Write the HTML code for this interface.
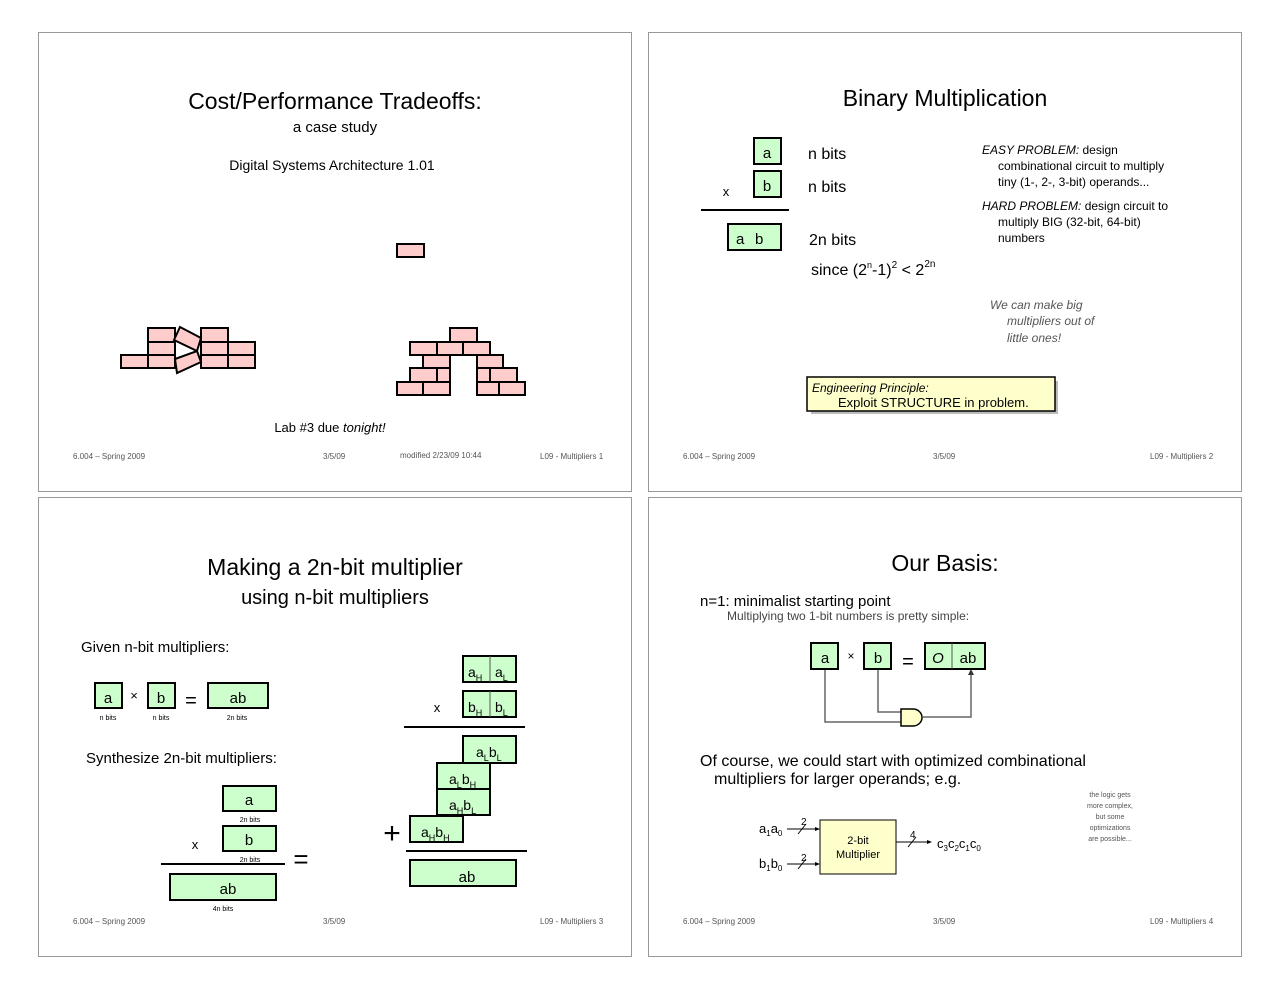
<!DOCTYPE html>
<html><head><meta charset="utf-8"><style>
html,body{margin:0;padding:0;background:#fff;}
svg{display:block;font-family:"Liberation Sans",sans-serif;}
.g{fill:#ccffcc;stroke:#000;stroke-width:2}
.p{fill:#ffcccc;stroke:#000;stroke-width:2}
.f{font-size:8px;fill:#555}
</style></head><body>
<svg width="1280" height="989" viewBox="0 0 1280 989" xmlns="http://www.w3.org/2000/svg">
<rect width="1280" height="989" fill="#fff"/>
<g fill="none" stroke="#999" stroke-width="1">
<rect x="38.5" y="32.5" width="593" height="459"/>
<rect x="648.5" y="32.5" width="593" height="459"/>
<rect x="38.5" y="497.5" width="593" height="459"/>
<rect x="648.5" y="497.5" width="593" height="459"/>
</g>

<!-- SLIDE 1 -->
<text x="335" y="109" font-size="23" text-anchor="middle">Cost/Performance Tradeoffs:</text>
<text x="335" y="132" font-size="15" text-anchor="middle">a case study</text>
<text x="332" y="170" font-size="14" text-anchor="middle">Digital Systems Architecture 1.01</text>
<g class="p">
<rect x="397" y="244" width="27" height="13"/>
<rect x="148" y="328" width="27" height="14"/><rect x="201" y="328" width="27" height="14"/>
<rect x="148" y="342" width="27" height="13"/><rect x="201" y="342" width="27" height="13"/><rect x="228" y="342" width="27" height="13"/>
<rect x="121" y="355" width="27" height="13"/><rect x="148" y="355" width="27" height="13"/><rect x="201" y="355" width="27" height="13"/><rect x="228" y="355" width="27" height="13"/>
<polygon points="180,327 201,338 197,351 174,340"/>
<polygon points="175,359 197,351 201,362 177,373"/>
<rect x="450" y="328" width="27" height="14"/>
<rect x="410" y="342" width="27" height="13"/><rect x="437" y="342" width="26" height="13"/><rect x="463" y="342" width="27" height="13"/>
<rect x="423" y="355" width="27" height="13"/><rect x="477" y="355" width="26" height="13"/>
<rect x="410" y="368" width="27" height="14"/><rect x="437" y="368" width="13" height="14"/><rect x="477" y="368" width="13" height="14"/><rect x="490" y="368" width="27" height="14"/>
<rect x="397" y="382" width="26" height="13"/><rect x="423" y="382" width="27" height="13"/><rect x="477" y="382" width="22" height="13"/><rect x="499" y="382" width="26" height="13"/>
</g>
<text x="330" y="432" font-size="13" text-anchor="middle">Lab #3 due <tspan font-style="italic">tonight!</tspan></text>
<text x="73" y="459" class="f">6.004 – Spring 2009</text>
<text x="323" y="459" class="f">3/5/09</text>
<text x="400" y="458" class="f" font-size="6">modified 2/23/09 10:44</text>
<text x="540" y="459" class="f">L09 - Multipliers   1</text>

<!-- SLIDE 2 -->
<text x="945" y="106" font-size="23" text-anchor="middle">Binary Multiplication</text>
<rect class="g" x="754" y="138" width="27" height="26"/><text x="767" y="158" font-size="15" text-anchor="middle">a</text>
<rect class="g" x="754" y="171" width="27" height="26"/><text x="767" y="191" font-size="15" text-anchor="middle">b</text>
<text x="726" y="196" font-size="13" text-anchor="middle">x</text>
<line x1="701" y1="210" x2="789" y2="210" stroke="#000" stroke-width="2"/>
<rect class="g" x="728" y="224" width="53" height="26"/><text x="736" y="244" font-size="15">a</text><text x="755" y="244" font-size="15">b</text>
<text x="808" y="159" font-size="16">n bits</text>
<text x="808" y="192" font-size="16">n bits</text>
<text x="809" y="245" font-size="16">2n bits</text>
<text x="811" y="275" font-size="16">since (2<tspan font-size="9" dy="-7">n</tspan><tspan dy="7">-1)</tspan><tspan font-size="10" dy="-7">2</tspan><tspan dy="7"> &lt; 2</tspan><tspan font-size="10" dy="-8">2n</tspan></text>
<g font-size="12">
<text x="982" y="154" font-style="italic">EASY PROBLEM: <tspan font-style="normal">design</tspan></text>
<text x="998" y="170">combinational circuit to multiply</text>
<text x="998" y="186">tiny (1-, 2-, 3-bit) operands...</text>
<text x="982" y="210" font-style="italic">HARD PROBLEM: <tspan font-style="normal">design circuit to</tspan></text>
<text x="998" y="226">multiply BIG (32-bit, 64-bit)</text>
<text x="998" y="242">numbers</text>
</g>
<g font-size="12" fill="#555" font-style="italic">
<text x="990" y="309">We can make big</text>
<text x="1007" y="325">multipliers out of</text>
<text x="1007" y="342">little ones!</text>
</g>
<rect x="811" y="381" width="247" height="33" fill="#bbb"/>
<rect x="807" y="377" width="248" height="34" fill="#ffffcc" stroke="#000" stroke-width="1.5"/>
<text x="812" y="392" font-size="12" font-style="italic">Engineering Principle:</text>
<text x="838" y="407" font-size="13">Exploit  STRUCTURE in problem.</text>
<text x="683" y="459" class="f">6.004 – Spring 2009</text>
<text x="933" y="459" class="f">3/5/09</text>
<text x="1150" y="459" class="f">L09 - Multipliers   2</text>

<!-- SLIDE 3 -->
<text x="335" y="575" font-size="23" text-anchor="middle">Making a 2n-bit multiplier</text>
<text x="335" y="604" font-size="20" text-anchor="middle">using n-bit multipliers</text>
<text x="81" y="652" font-size="15">Given n-bit multipliers:</text>
<rect class="g" x="95" y="683" width="27" height="25"/><text x="108" y="703" font-size="15" text-anchor="middle">a</text>
<text x="134" y="700" font-size="13" text-anchor="middle">×</text>
<rect class="g" x="148" y="683" width="27" height="25"/><text x="161" y="703" font-size="15" text-anchor="middle">b</text>
<text x="191" y="707" font-size="20" text-anchor="middle">=</text>
<rect class="g" x="208" y="683" width="60" height="25"/><text x="238" y="703" font-size="15" text-anchor="middle">ab</text>
<g font-size="7" text-anchor="middle"><text x="108" y="720">n bits</text><text x="161" y="720">n bits</text><text x="237" y="720">2n bits</text></g>
<text x="86" y="763" font-size="15">Synthesize 2n-bit multipliers:</text>
<rect class="g" x="223" y="786" width="53" height="25"/><text x="249" y="805" font-size="15" text-anchor="middle">a</text>
<text x="250" y="822" font-size="7" text-anchor="middle">2n bits</text>
<rect class="g" x="223" y="826" width="53" height="25"/><text x="249" y="845" font-size="15" text-anchor="middle">b</text>
<text x="250" y="862" font-size="7" text-anchor="middle">2n bits</text>
<text x="195" y="849" font-size="13" text-anchor="middle">x</text>
<line x1="161" y1="864" x2="285" y2="864" stroke="#000" stroke-width="2"/>
<text x="301" y="868" font-size="26" text-anchor="middle">=</text>
<rect class="g" x="170" y="874" width="106" height="26"/><text x="228" y="894" font-size="15" text-anchor="middle">ab</text>
<text x="223" y="911" font-size="7" text-anchor="middle">4n bits</text>
<g font-size="14">
<rect class="g" x="463" y="656" width="53" height="26"/><line x1="490" y1="656" x2="490" y2="682" stroke="#555"/>
<text x="468" y="677">a<tspan font-size="9" dy="4">H</tspan></text><text x="495" y="677">a<tspan font-size="9" dy="4">L</tspan></text>
<rect class="g" x="463" y="691" width="53" height="26"/><line x1="490" y1="691" x2="490" y2="717" stroke="#555"/>
<text x="468" y="712">b<tspan font-size="9" dy="4">H</tspan></text><text x="495" y="712">b<tspan font-size="9" dy="4">L</tspan></text>
<text x="437" y="712" font-size="13" text-anchor="middle">x</text>
<line x1="404" y1="727" x2="525" y2="727" stroke="#000" stroke-width="2"/>
<rect class="g" x="463" y="736" width="53" height="27"/><text x="476" y="757">a<tspan font-size="9" dy="4">L</tspan><tspan dy="-4">b</tspan><tspan font-size="9" dy="4">L</tspan></text>
<rect class="g" x="437" y="763" width="53" height="26"/><text x="449" y="784">a<tspan font-size="9" dy="4">L</tspan><tspan dy="-4">b</tspan><tspan font-size="9" dy="4">H</tspan></text>
<rect class="g" x="437" y="789" width="53" height="26"/><text x="449" y="810">a<tspan font-size="9" dy="4">H</tspan><tspan dy="-4">b</tspan><tspan font-size="9" dy="4">L</tspan></text>
<rect class="g" x="410" y="816" width="53" height="26"/><text x="421" y="837">a<tspan font-size="9" dy="4">H</tspan><tspan dy="-4">b</tspan><tspan font-size="9" dy="4">H</tspan></text>
<text x="392" y="843" font-size="30" text-anchor="middle">+</text>
<line x1="406" y1="851" x2="527" y2="851" stroke="#000" stroke-width="2"/>
<rect class="g" x="410" y="860" width="106" height="26"/><text x="467" y="882" font-size="15" text-anchor="middle">ab</text>
</g>
<text x="73" y="924" class="f">6.004 – Spring 2009</text>
<text x="323" y="924" class="f">3/5/09</text>
<text x="540" y="924" class="f">L09 - Multipliers   3</text>

<!-- SLIDE 4 -->
<text x="945" y="571" font-size="23" text-anchor="middle">Our Basis:</text>
<text x="700" y="606" font-size="15">n=1: minimalist starting point</text>
<text x="727" y="620" font-size="12" fill="#444">Multiplying two 1-bit numbers is pretty simple:</text>
<g fill="none" stroke="#666" stroke-width="1.5">
<polyline points="825,668 825,722 903,722"/>
<polyline points="878,668 878,712 903,712"/>
<polyline points="923,717 971,717 971,672"/>
</g>
<polygon points="971,669 968,675 974,675" fill="#333"/>
<path d="M901,709 h12 a9,8.5 0 0 1 0,17 h-12 z" fill="#ffffcc" stroke="#000" stroke-width="1.5"/>
<rect class="g" x="811" y="643" width="27" height="26"/><text x="825" y="663" font-size="15" text-anchor="middle">a</text>
<text x="851" y="660" font-size="12" text-anchor="middle">×</text>
<rect class="g" x="864" y="643" width="27" height="26"/><text x="878" y="663" font-size="15" text-anchor="middle">b</text>
<text x="908" y="668" font-size="20" text-anchor="middle">=</text>
<rect class="g" x="925" y="643" width="60" height="26"/><line x1="952" y1="643" x2="952" y2="669" stroke="#555"/>
<text x="938" y="663" font-size="15" text-anchor="middle" font-style="italic">O</text><text x="968" y="663" font-size="15" text-anchor="middle">ab</text>
<text x="700" y="766" font-size="16">Of course, we could start with optimized combinational</text>
<text x="714" y="784" font-size="16">multipliers for larger operands; e.g.</text>
<g font-size="7" fill="#555" text-anchor="middle">
<text x="1110" y="797">the logic gets</text><text x="1110" y="808">more complex,</text><text x="1110" y="819">but some</text><text x="1110" y="830">optimizations</text><text x="1110" y="841">are possible...</text>
</g>
<rect x="820" y="820" width="76" height="54" fill="#ffffcc" stroke="#000" stroke-width="1"/>
<text x="858" y="844" font-size="11" text-anchor="middle">2-bit</text>
<text x="858" y="858" font-size="11" text-anchor="middle">Multiplier</text>
<g stroke="#000" stroke-width="1" fill="none">
<line x1="787" y1="829" x2="818" y2="829"/><line x1="798" y1="834" x2="806" y2="824"/>
<line x1="787" y1="864" x2="818" y2="864"/><line x1="798" y1="869" x2="806" y2="859"/>
<line x1="896" y1="842" x2="930" y2="842"/><line x1="908" y1="847" x2="916" y2="837"/>
</g>
<g fill="#000"><polygon points="820,829 815,827 815,831"/><polygon points="820,864 815,862 815,866"/><polygon points="932,842 927,840 927,844"/></g>
<g font-size="10"><text x="801" y="825">2</text><text x="801" y="861">2</text><text x="910" y="838">4</text></g>
<g font-size="13">
<text x="759" y="833">a<tspan font-size="8" dy="3">1</tspan><tspan dy="-3">a</tspan><tspan font-size="8" dy="3">0</tspan></text>
<text x="759" y="868">b<tspan font-size="8" dy="3">1</tspan><tspan dy="-3">b</tspan><tspan font-size="8" dy="3">0</tspan></text>
<text x="937" y="848">c<tspan font-size="8" dy="3">3</tspan><tspan dy="-3">c</tspan><tspan font-size="8" dy="3">2</tspan><tspan dy="-3">c</tspan><tspan font-size="8" dy="3">1</tspan><tspan dy="-3">c</tspan><tspan font-size="8" dy="3">0</tspan></text>
</g>
<text x="683" y="924" class="f">6.004 – Spring 2009</text>
<text x="933" y="924" class="f">3/5/09</text>
<text x="1150" y="924" class="f">L09 - Multipliers   4</text>
</svg>
</body></html>
